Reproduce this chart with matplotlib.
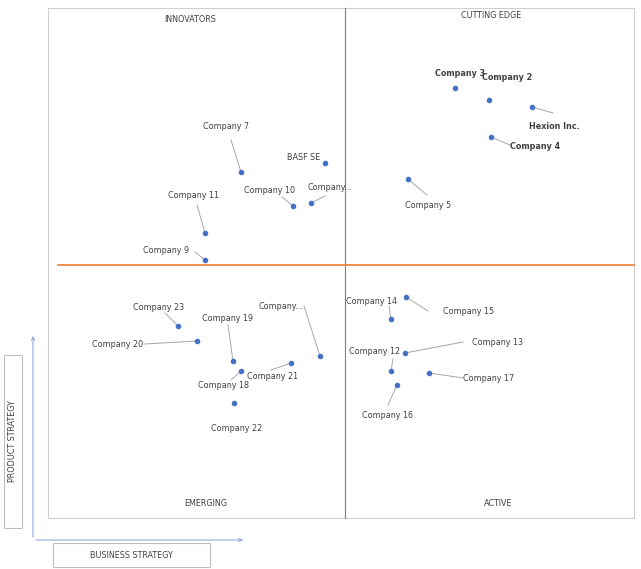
import matplotlib.pyplot as plt
from matplotlib.patches import Rectangle

plt.rcParams.update({'font.size': 5.8, 'font.family': 'DejaVu Sans'})

# companies: name, dot position (business, product), label anchor, leader line end
names = ["Company 3", "Company 2", "Hexion Inc.", "Company 4", "Company 5", "BASF SE",
         "Company...", "Company 10", "Company 7", "Company 11", "Company 9",
         "Company 23", "Company 20", "Company 19", "Company 18", "Company 21",
         "Company...", "Company 22", "Company 14", "Company 15", "Company 13",
         "Company 12", "Company 17", "Company 16"]
dot_x = [455, 489, 532, 491, 408, 325, 311, 293, 241, 205, 205, 178, 197, 233, 241, 291, 320, 234, 391, 406, 405, 391, 429, 397]
dot_y = [88, 100, 107, 137, 179, 163, 203, 206, 172, 233, 260, 326, 341, 361, 371, 363, 356, 403, 319, 297, 353, 371, 373, 385]
line_x = [455, 489, 553, 510, 427, 325, 325, 282, 231, 197, 195, 165, 145, 228, 231, 271, 304, 234, 389, 428, 463, 393, 463, 388]
line_y = [88, 100, 113, 145, 195, 163, 196, 197, 140, 205, 252, 313, 344, 325, 380, 370, 306, 403, 306, 311, 342, 359, 378, 405]
label_x = [460, 507, 554, 535, 428, 304, 330, 270, 226, 194, 166, 159, 118, 228, 224, 273, 281, 237, 372, 469, 497, 375, 489, 388]
label_y = [73, 77, 126, 146, 205, 157, 187, 190, 126, 195, 250, 307, 344, 318, 385, 376, 306, 428, 301, 311, 342, 351, 378, 415]
bold = ["Company 3", "Company 2", "Hexion Inc.", "Company 4"]

quad_labels = ["INNOVATORS", "CUTTING EDGE", "EMERGING", "ACTIVE"]
quad_x = [190, 491, 206, 498]
quad_y = [19, 15, 503, 503]

fig = plt.figure(figsize=(6.41, 5.69), dpi=100)
ax = fig.add_axes([0, 0, 1, 1])
ax.set_xlim(0, 641)
ax.set_ylim(569, 0)
ax.axis('off')

ax.add_patch(Rectangle((48, 8), 586, 510, fill=False, ec='#d0d0d0', lw=0.8))
ax.plot([345, 345], [8, 518], color='#7f7f7f', lw=0.8)
ax.plot([58, 634], [265, 265], color='#ed7d31', lw=1.2)

for i, n in enumerate(names):
    ax.plot([dot_x[i], line_x[i]], [dot_y[i], line_y[i]], color='#a6a6a6', lw=0.7)
    ax.text(label_x[i], label_y[i], n, ha='center', va='center', color='#404040',
            fontweight='bold' if n in bold else 'normal')
ax.scatter(dot_x, dot_y, s=9, color='#4472c4', zorder=3)

for t, x, y in zip(quad_labels, quad_x, quad_y):
    ax.text(x, y, t, ha='center', va='center', color='#404040')

# axis arrows and label boxes
ax.annotate('', xy=(33, 333), xytext=(33, 540),
            arrowprops=dict(arrowstyle='->', color='#8eaadb', lw=0.8))
ax.annotate('', xy=(246, 540), xytext=(33, 540),
            arrowprops=dict(arrowstyle='->', color='#8eaadb', lw=0.8))
ax.add_patch(Rectangle((4, 355), 18, 173, fill=False, ec='#bfbfbf', lw=0.8))
ax.text(13, 441, 'PRODUCT STRATEGY', rotation=90, ha='center', va='center', color='#404040')
ax.add_patch(Rectangle((53, 543), 157, 24, fill=False, ec='#bfbfbf', lw=0.8))
ax.text(131, 555, 'BUSINESS STRATEGY', ha='center', va='center', color='#404040')

fig.savefig('out.png', dpi=100)
